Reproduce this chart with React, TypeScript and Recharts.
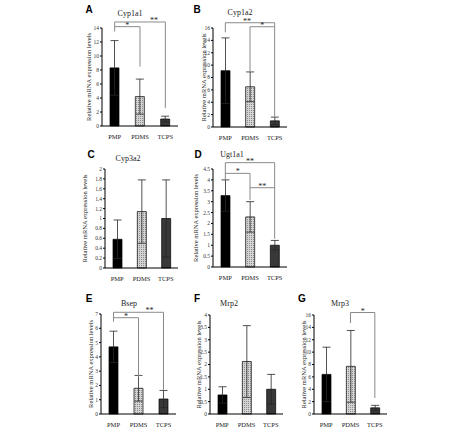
import React from "react";
import { Bar, BarChart, Cell, ErrorBar, ReferenceLine, XAxis, YAxis } from "recharts";

const groups = ["PMP", "PDMS", "TCPS"];

// mean and SD per panel
const cyp1a1Mean = [8.3, 4.2, 1.0];
const cyp1a1Sd = [3.9, 2.5, 0.4];
const cyp1a2Mean = [9.1, 6.5, 1.0];
const cyp1a2Sd = [5.3, 2.4, 0.6];
const cyp3a2Mean = [0.58, 1.14, 1.0];
const cyp3a2Sd = [0.39, 0.64, 0.78];
const ugt1a1Mean = [3.28, 2.3, 1.0];
const ugt1a1Sd = [0.72, 0.7, 0.22];
const bsepMean = [4.7, 1.8, 1.05];
const bsepSd = [1.1, 0.9, 0.6];
const mrp2Mean = [0.77, 2.12, 1.0];
const mrp2Sd = [0.33, 1.45, 0.6];
const mrp3Mean = [6.4, 7.7, 1.0];
const mrp3Sd = [4.4, 5.8, 0.4];

const ticks14 = [0, 2, 4, 6, 8, 10, 12, 14];
const ticks16 = [0, 2, 4, 6, 8, 10, 12, 14, 16];
const ticks2 = [0, 0.2, 0.4, 0.6, 0.8, 1, 1.2, 1.4, 1.6, 1.8, 2];
const ticks45 = [0, 0.5, 1, 1.5, 2, 2.5, 3, 3.5, 4, 4.5];
const ticks7 = [0, 1, 2, 3, 4, 5, 6, 7];
const ticks4 = [0, 0.5, 1, 1.5, 2, 2.5, 3, 3.5, 4];

// significance brackets: [from, to, bracket level, from-leg bottom, to-leg bottom, mark]
type Bracket = [string, string, number, number, number, string];
const cyp1a1Sig: Bracket[] = [
  ["PMP", "TCPS", 14.86, 13.5, 2.55, "**"],
  ["PMP", "PDMS", 14.19, 14.19, 8.5, "*"],
];
const cyp1a2Sig: Bracket[] = [
  ["PMP", "TCPS", 16.85, 15.3, 1.7, "**"],
  ["PDMS", "TCPS", 16.2, 8.9, 16.2, "*"],
];
const ugt1a1Sig: Bracket[] = [
  ["PMP", "TCPS", 4.79, 4.0, 1.3, "**"],
  ["PMP", "PDMS", 4.3, 4.3, 3.07, "*"],
  ["PDMS", "TCPS", 3.64, 3.64, 3.64, "**"],
];
const bsepSig: Bracket[] = [
  ["PMP", "TCPS", 7.12, 6.46, 1.7, "**"],
  ["PMP", "PDMS", 6.74, 6.74, 2.6, "*"],
];
const mrp3Sig: Bracket[] = [["PDMS", "TCPS", 16.4, 14.7, 2.6, "*"]];

const serif = "'Liberation Serif', 'Times New Roman', serif";
const YW = 30;
const MT = 22;
const MR = 6;
const XH = 16;

interface PanelProps {
  id: string;
  letter: string;
  title: string;
  mean: number[];
  sd: number[];
  ticks: number[];
  sig: Bracket[];
  plot: { left: number; top: number; right: number; bottom: number };
  letterAt: [number, number];
  titleAt: [number, number];
  labelGap: number;
  markShift?: number[];
}

function Panel(p: PanelProps) {
  const data = groups.map((g, i) => ({ name: g, value: p.mean[i], err: p.sd[i] }));
  const plotW = p.plot.right - p.plot.left;
  const plotH = p.plot.bottom - p.plot.top;
  const fills = ["#000", `url(#dots-${p.id})`, "#383838"];
  const lines: React.ReactNode[] = [];
  p.sig.forEach(([a, b, top, aLow, bLow, mark], i) => {
    lines.push(
      <ReferenceLine
        key={`h${i}`}
        segment={[{ x: a, y: top }, { x: b, y: top }]}
        stroke="#8a8a8a"
        strokeWidth={1}
        ifOverflow="visible"
        label={{
          value: mark,
          position: "top",
          offset: -1,
          fontSize: 8,
          fill: "#222",
          dx: p.markShift ? p.markShift[i] : 0,
        }}
      />
    );
    if (aLow !== top)
      lines.push(
        <ReferenceLine key={`a${i}`} segment={[{ x: a, y: top }, { x: a, y: aLow }]} stroke="#8a8a8a" strokeWidth={1} ifOverflow="visible" />
      );
    if (bLow !== top)
      lines.push(
        <ReferenceLine key={`b${i}`} segment={[{ x: b, y: top }, { x: b, y: bLow }]} stroke="#8a8a8a" strokeWidth={1} ifOverflow="visible" />
      );
  });

  return (
    <>
      <div
        style={{
          position: "absolute",
          left: p.letterAt[0],
          top: p.letterAt[1],
          transform: "translate(-50%, -50%)",
          fontFamily: "'Liberation Sans', Arial, sans-serif",
          fontWeight: "bold",
          fontSize: 10,
          lineHeight: 1,
        }}
      >
        {p.letter}
      </div>
      <div
        style={{
          position: "absolute",
          left: p.titleAt[0],
          top: p.titleAt[1],
          transform: "translate(-50%, -50%)",
          fontFamily: serif,
          fontSize: 8,
          lineHeight: 1,
          color: "#222",
          whiteSpace: "nowrap",
        }}
      >
        {p.title}
      </div>
      <div style={{ position: "absolute", left: p.plot.left - YW, top: p.plot.top - MT, fontFamily: serif }}>
        <BarChart
          width={YW + plotW + MR}
          height={MT + plotH + XH}
          data={data}
          margin={{ top: MT, right: MR, left: 0, bottom: 0 }}
          style={{ fontFamily: serif }}
        >
          <defs>
            <pattern id={`dots-${p.id}`} width={2} height={2} patternUnits="userSpaceOnUse">
              <rect width={2} height={2} fill="#d4d4d4" />
              <rect width={1} height={1} fill="#8c8c8c" />
            </pattern>
          </defs>
          <XAxis
            dataKey="name"
            height={XH}
            interval={0}
            tickLine={false}
            axisLine={{ stroke: "#000" }}
            tick={{ fontSize: 6.5, fill: "#222" }}
          />
          <YAxis
            width={YW}
            domain={[0, p.ticks[p.ticks.length - 1]]}
            ticks={p.ticks}
            interval={0}
            tickSize={2}
            tickMargin={1}
            axisLine={{ stroke: "#000" }}
            tickLine={{ stroke: "#000" }}
            tick={{ fontSize: 5.5, fill: "#333" }}
            label={{
              value: "Relative mRNA expression levels",
              angle: -90,
              position: "insideLeft",
              offset: YW - p.labelGap,
              style: { textAnchor: "middle", fontSize: 6.5, fill: "#222" },
            }}
          />
          <Bar dataKey="value" barSize={9} isAnimationActive={false}>
            {data.map((d, i) => (
              <Cell key={d.name} fill={fills[i]} stroke="#000" strokeWidth={0.7} />
            ))}
            <ErrorBar dataKey="err" width={4} stroke="#262626" strokeWidth={0.8} isAnimationActive={false} />
          </Bar>
          {lines}
        </BarChart>
      </div>
    </>
  );
}

export default function App() {
  return (
    <div style={{ position: "absolute", left: 0, top: 0, width: 474, height: 432, background: "#fff", overflow: "hidden" }}>
      <Panel
        id="a" letter="A" title="Cyp1a1" mean={cyp1a1Mean} sd={cyp1a1Sd} ticks={ticks14} sig={cyp1a1Sig}
        plot={{ left: 102, top: 28, right: 178, bottom: 126 }}
        letterAt={[89, 10]} titleAt={[130, 14]} labelGap={13} markShift={[14, 0]}
      />
      <Panel
        id="b" letter="B" title="Cyp1a2" mean={cyp1a2Mean} sd={cyp1a2Sd} ticks={ticks16} sig={cyp1a2Sig}
        plot={{ left: 213, top: 28, right: 287, bottom: 127 }}
        letterAt={[197, 10]} titleAt={[240, 13]} labelGap={9} markShift={[-3, 0]}
      />
      <Panel
        id="c" letter="C" title="Cyp3a2" mean={cyp3a2Mean} sd={cyp3a2Sd} ticks={ticks2} sig={[]}
        plot={{ left: 105, top: 169, right: 178, bottom: 268 }}
        letterAt={[91, 155]} titleAt={[128, 159]} labelGap={20}
      />
      <Panel
        id="d" letter="D" title="Ugt1a1" mean={ugt1a1Mean} sd={ugt1a1Sd} ticks={ticks45} sig={ugt1a1Sig}
        plot={{ left: 213, top: 169, right: 287, bottom: 267 }}
        letterAt={[198, 155]} titleAt={[232, 155]} labelGap={17}
      />
      <Panel
        id="e" letter="E" title="Bsep" mean={bsepMean} sd={bsepSd} ticks={ticks7} sig={bsepSig}
        plot={{ left: 101, top: 314, right: 176, bottom: 414 }}
        letterAt={[89, 299]} titleAt={[129, 304]} labelGap={10} markShift={[11, 0]}
      />
      <Panel
        id="f" letter="F" title="Mrp2" mean={mrp2Mean} sd={mrp2Sd} ticks={ticks4} sig={[]}
        plot={{ left: 210, top: 315, right: 283, bottom: 414 }}
        letterAt={[197, 299]} titleAt={[229, 304]} labelGap={11}
      />
      <Panel
        id="g" letter="G" title="Mrp3" mean={mrp3Mean} sd={mrp3Sd} ticks={ticks16} sig={mrp3Sig}
        plot={{ left: 314, top: 315, right: 387, bottom: 414 }}
        letterAt={[302, 299]} titleAt={[340, 304]} labelGap={10}
      />
    </div>
  );
}
